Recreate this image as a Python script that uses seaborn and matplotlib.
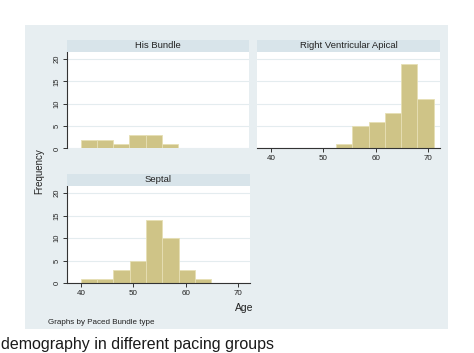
import matplotlib
matplotlib.use("Agg")
import matplotlib.pyplot as plt
from matplotlib.patches import Rectangle
import numpy as np
import pandas as pd
import seaborn as sns

sns.set_style("white")
plt.rcParams['font.family'] = ['Liberation Sans', 'DejaVu Sans']

# ---- data ----
bin_edges = [40.0, 43.11, 46.22, 49.33, 52.44, 55.55, 58.66, 61.77, 64.88, 67.99, 71.1]
his_counts = [2, 2, 1, 3, 3, 1, 0, 0, 0, 0]
rv_counts = [0, 0, 0, 0, 1, 5, 6, 8, 19, 11]
septal_counts = [1, 1, 3, 5, 14, 10, 3, 1, 0, 0]
panel_titles = ["His Bundle", "Right Ventricular Apical", "Septal"]
x_ticks = [40, 50, 60, 70]
y_ticks = [0, 5, 10, 15, 20]

W, H = 474, 353
fig = plt.figure(figsize=(W / 100, H / 100), dpi=100)
fig.patch.set_facecolor("white")

def fx(px):
    return px / W

def fy(py):
    return 1 - py / H

# outer Stata graph region
fig.patches.append(Rectangle((fx(25), fy(329)), fx(448) - fx(25), fy(25) - fy(329),
                             transform=fig.transFigure, facecolor="#e7eef1",
                             edgecolor="none", zorder=-10))

bar_color = "#cfc487"
edge_color = "#e6dfb4"
strip_color = "#d8e4ea"
grid_color = "#e4ecef"
text_color = "#222222"

centers = [(a + b) / 2 for a, b in zip(bin_edges[:-1], bin_edges[1:])]

# axes boxes in pixels: (left, top, right, bottom)
boxes = [(67, 52, 249, 148.5), (257, 52, 440, 148.5), (67, 186, 250, 283.3)]
counts_list = [his_counts, rv_counts, septal_counts]

axes = []
for i, ((l, t, r, b), counts, title) in enumerate(zip(boxes, counts_list, panel_titles)):
    ax = fig.add_axes([fx(l), fy(b), fx(r) - fx(l), fy(t) - fy(b)], zorder=2)
    ax.set_facecolor("white")
    df = pd.DataFrame({"age": centers, "n": counts})
    sns.histplot(data=df, x="age", weights="n", bins=bin_edges, ax=ax,
                 color=bar_color, edgecolor=edge_color, linewidth=0.6, alpha=1.0)
    ax.set_xlim(37.35, 72.3)
    ax.set_ylim(0, 21.6)
    ax.set_yticks(y_ticks)
    ax.set_xticks(x_ticks)
    ax.set_xlabel("")
    ax.set_ylabel("")
    ax.set_axisbelow(True)
    ax.grid(axis="y", color=grid_color, linewidth=0.8)
    ax.grid(axis="x", visible=False)
    for s in ax.spines.values():
        s.set_visible(False)
    show_y = i in (0, 2)
    show_x = i in (1, 2)
    if show_y:
        ax.spines["left"].set_visible(True)
        ax.spines["left"].set_color("#333333")
        ax.spines["left"].set_linewidth(0.8)
        ax.tick_params(axis="y", left=True, length=3, width=0.7, color="#333333",
                       labelsize=5.5, labelcolor=text_color, pad=1.5)
        for lbl in ax.get_yticklabels():
            lbl.set_rotation(90)
            lbl.set_va("center")
    else:
        ax.tick_params(axis="y", left=False, labelleft=False)
    if show_x:
        ax.spines["bottom"].set_visible(True)
        ax.spines["bottom"].set_color("#333333")
        ax.spines["bottom"].set_linewidth(0.8)
        ax.tick_params(axis="x", bottom=True, length=3, width=0.7, color="#333333",
                       labelsize=5.8, labelcolor=text_color, pad=2)
    else:
        ax.tick_params(axis="x", bottom=False, labelbottom=False)
    # strip title
    sax = fig.add_axes([fx(l), fy(t), fx(r) - fx(l), fy(t - 12) - fy(t)], zorder=2)
    sax.set_facecolor(strip_color)
    sax.set_xticks([])
    sax.set_yticks([])
    for s in sax.spines.values():
        s.set_visible(False)
    sax.text(0.5, 0.5, title, ha="center", va="center", fontsize=6.8,
             color=text_color, transform=sax.transAxes)
    axes.append(ax)

fig.text(fx(39), fy(171), "Frequency", rotation=90, ha="center", va="center",
         fontsize=7, color=text_color)
fig.text(fx(244), fy(308), "Age", ha="center", va="center", fontsize=7.5,
         color=text_color)
fig.text(fx(48), fy(322), "Graphs by Paced Bundle type", ha="left", va="center",
         fontsize=5.8, color=text_color)
fig.text(fx(1), fy(348.5), "demography in different pacing groups", ha="left",
         va="baseline", fontsize=11.5, color="#1a1a1a")

fig.savefig("out.png", dpi=100, facecolor=fig.get_facecolor())
